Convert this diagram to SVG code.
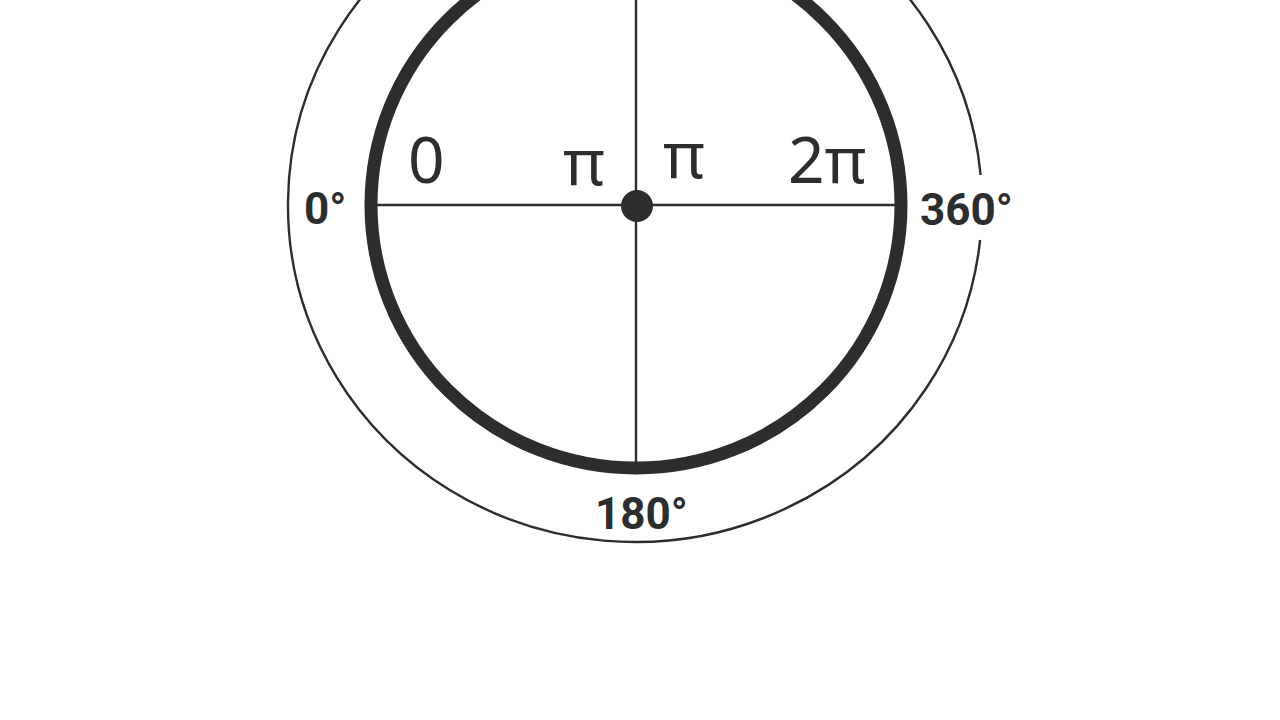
<svg xmlns="http://www.w3.org/2000/svg" width="1280" height="720" viewBox="0 0 1280 720">
<style>
.thin{fill:none;stroke:#2b2d2f;stroke-width:2.4}
.thick{fill:none;stroke:#2b2d2f;stroke-width:13}
.rad{font-family:"Noto Sans","Open Sans",sans-serif;font-size:64px;fill:#2b2d2f}
.deg{font-family:Roboto,"Liberation Sans",sans-serif;font-weight:bold;font-size:44px;fill:#2b2d2f}
</style>
<rect width="1280" height="720" fill="#fff"/>
<g id="outer-ring">
<path class="thin" d="M 980.1 240 A 347 337 0 1 1 980.6 175"/>
</g>
<g id="connectors">
<line class="thin" x1="636" y1="0" x2="636" y2="462"/>
<line class="thin" x1="376" y1="205" x2="896" y2="205"/>
</g>
<g id="inner-circle">
<ellipse class="thick" cx="636" cy="205" rx="265" ry="263"/>
</g>
<g id="center">
<circle cx="637" cy="206" r="16" fill="#2b2d2f"/>
</g>
<g id="labels">
<text class="rad" x="408" y="183">0</text>
<text class="rad" x="563" y="185">π</text>
<text class="rad" x="663" y="178">π</text>
<text class="rad" x="788" y="183">2π</text>
<text class="deg" x="304" y="224">0°</text>
<text class="deg" x="920" y="225">360°</text>
<text class="deg" x="595" y="529">180°</text>
</g>
</svg>
